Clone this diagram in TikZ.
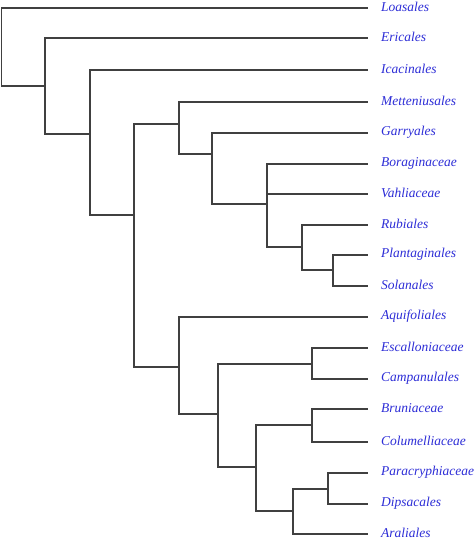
\documentclass[tikz,border=0pt]{standalone}
\usepackage{fontspec}
\setmainfont{Liberation Serif}
\definecolor{edge}{RGB}{64,64,64}
\definecolor{lab}{RGB}{45,45,215}
\begin{document}
\begin{tikzpicture}[x=1pt,y=-1pt,
  br/.style={draw=edge,line width=1.3pt,line cap=rect},
  taxon/.style={anchor=west,inner sep=0pt,text=lab,font=\fontsize{13.5}{14}\selectfont\itshape}]
\useasboundingbox[fill=white] (0,0) rectangle (474,540);
% leaf ends and labels
\foreach \i/\y/\t in {1/8/Loasales,2/38/Ericales,3/70/Icacinales,4/102/Metteniusales,
  5/133/Garryales,6/164/Boraginaceae,7/194/Vahliaceae,8/225/Rubiales,9/255/Plantaginales,
  10/286/Solanales,11/317/Aquifoliales,12/348/Escalloniaceae,13/379/Campanulales,
  14/409/Bruniaceae,15/442/Columelliaceae,16/473/Paracryphiaceae,17/504/Dipsacales,18/534/Araliales}{
  \coordinate (e\i) at (367,\y);
  \node[taxon] (t\i) at (381,\y-1) {\t};
}
% internal nodes
\coordinate (n1) at (1.5,47);
\coordinate (n2) at (45,86);
\coordinate (n3) at (90,134);
\coordinate (n4) at (134,215);
\coordinate (n5) at (179,124);
\coordinate (n6) at (212,154);
\coordinate (n7) at (267,204);
\coordinate (n8) at (302,247);
\coordinate (n9) at (333,270);
\coordinate (n10) at (179,367);
\coordinate (n11) at (218,414);
\coordinate (n12) at (312,364);
\coordinate (n13) at (256,467);
\coordinate (n14) at (312,425);
\coordinate (n15) at (293,511);
\coordinate (n16) at (328,489);
% branches: child -| parent
\foreach \c/\p in {e1/n1,n2/n1,e2/n2,n3/n2,e3/n3,n4/n3,n5/n4,n10/n4,
  e4/n5,n6/n5,e5/n6,n7/n6,e6/n7,e7/n7,n8/n7,e8/n8,n9/n8,e9/n9,e10/n9,
  e11/n10,n11/n10,n12/n11,n13/n11,e12/n12,e13/n12,n14/n13,n15/n13,
  e14/n14,e15/n14,n16/n15,e18/n15,e16/n16,e17/n16}{
  \draw[br] (\c) -| (\p);
}
\end{tikzpicture}
\end{document}
